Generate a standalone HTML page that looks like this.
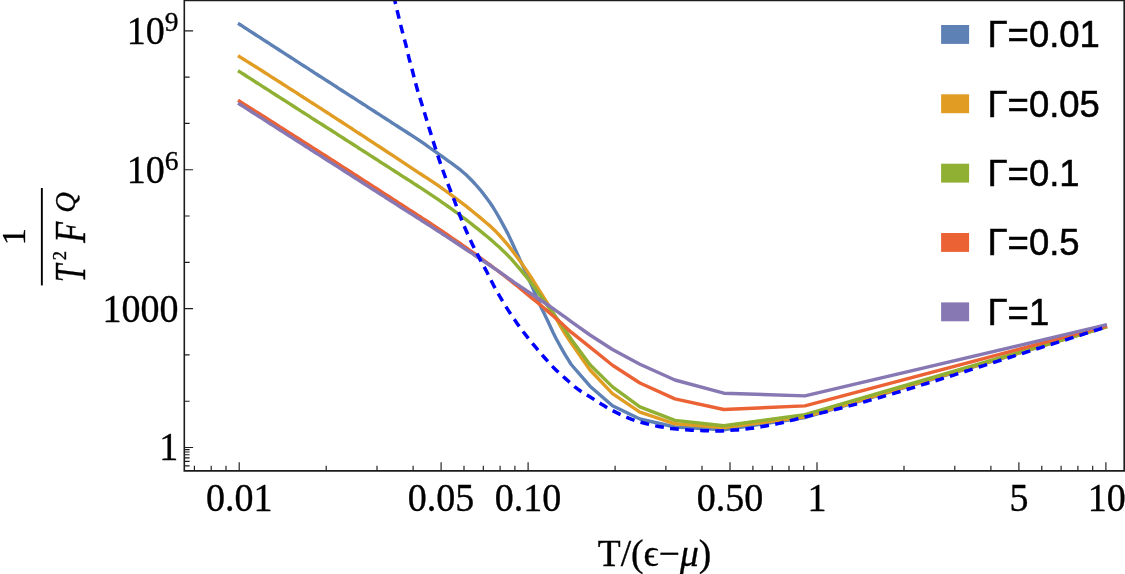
<!DOCTYPE html>
<html lang="en"><head><meta charset="utf-8"><title>Plot</title>
<style>html,body{margin:0;padding:0;background:#fff}svg{display:block}</style>
</head><body>
<svg width="1125" height="574" viewBox="0 0 1125 574">
<rect width="1125" height="574" fill="#fff"/>
<g fill="none" stroke-width="3.4" stroke-linejoin="round">
<path stroke="#5E81B5" d="M238.0 23.3 L241.0 25.2 L244.0 27.2 L247.0 29.1 L250.0 31.1 L253.0 33.0 L256.0 35.0 L259.0 36.9 L262.0 38.8 L265.0 40.8 L268.0 42.7 L271.0 44.7 L274.0 46.6 L277.0 48.5 L280.0 50.5 L283.0 52.4 L286.0 54.4 L289.0 56.3 L292.0 58.2 L295.0 60.2 L298.0 62.1 L301.0 64.1 L304.0 66.0 L307.0 67.9 L310.0 69.9 L313.0 71.8 L316.0 73.8 L319.0 75.7 L322.1 77.6 L325.1 79.6 L328.1 81.5 L331.1 83.4 L334.1 85.4 L337.1 87.3 L340.1 89.3 L343.1 91.2 L346.1 93.1 L349.1 95.1 L352.1 97.0 L355.1 98.9 L358.1 100.9 L361.1 102.8 L364.1 104.7 L367.1 106.7 L370.1 108.6 L373.1 110.5 L376.1 112.5 L379.1 114.4 L382.1 116.4 L385.1 118.3 L388.1 120.2 L391.1 122.2 L394.1 124.1 L397.1 126.0 L400.1 128.0 L403.1 129.9 L406.1 131.8 L409.1 133.7 L412.1 135.6 L415.1 137.6 L418.1 139.6 L421.1 141.6 L424.1 143.7 L427.1 145.8 L430.1 148.0 L433.1 150.1 L436.1 152.2 L439.1 154.4 L442.1 156.5 L445.1 158.6 L448.1 160.8 L451.1 162.9 L454.1 165.1 L457.1 167.3 L460.1 169.7 L463.1 172.2 L466.1 174.8 L469.1 177.7 L472.1 180.8 L475.1 184.0 L478.1 187.4 L481.1 190.9 L484.1 194.7 L487.1 198.7 L490.2 203.0 L493.2 207.5 L496.2 212.5 L499.2 217.7 L502.2 223.1 L505.2 228.6 L508.2 234.4 L511.2 240.8 L514.2 247.3 L517.2 253.7 L520.2 260.1 L523.2 266.6 L526.2 273.3 L529.2 280.0 L532.2 286.9 L535.2 293.7 L538.2 300.7 L541.2 307.6 L544.2 313.6 L547.2 319.7 L550.2 326.3 L553.2 332.8 L556.2 338.8 L559.2 344.3 L562.2 349.6 L565.2 354.8 L568.2 359.7 L571.2 364.5 L590.0 386.2 L612.5 405.7 L639.9 419.0 L674.9 427.0 L723.8 429.9 L804.9 417.5 L1107.0 326.7"/>
<path stroke="#E19C24" d="M238.0 55.7 L241.0 57.6 L244.0 59.5 L247.0 61.4 L250.0 63.2 L253.0 65.1 L256.0 67.0 L259.0 68.9 L262.0 70.8 L265.0 72.7 L268.0 74.6 L271.0 76.6 L274.0 78.5 L277.0 80.4 L280.0 82.3 L283.0 84.2 L286.0 86.1 L289.0 88.1 L292.0 90.0 L295.0 91.9 L298.0 93.8 L301.0 95.8 L304.0 97.7 L307.0 99.6 L310.0 101.6 L313.0 103.5 L316.0 105.4 L319.0 107.4 L322.1 109.3 L325.1 111.3 L328.1 113.2 L331.1 115.2 L334.1 117.1 L337.1 119.1 L340.1 121.0 L343.1 123.0 L346.1 124.9 L349.1 126.9 L352.1 128.8 L355.1 130.8 L358.1 132.8 L361.1 134.7 L364.1 136.7 L367.1 138.7 L370.1 140.6 L373.1 142.6 L376.1 144.6 L379.1 146.5 L382.1 148.5 L385.1 150.5 L388.1 152.5 L391.1 154.4 L394.1 156.4 L397.1 158.4 L400.1 160.4 L403.1 162.4 L406.1 164.4 L409.1 166.4 L412.1 168.4 L415.1 170.4 L418.1 172.4 L421.1 174.3 L424.1 176.2 L427.1 178.1 L430.1 180.1 L433.1 182.1 L436.1 184.1 L439.1 186.2 L442.1 188.3 L445.1 190.5 L448.1 192.7 L451.1 194.9 L454.1 197.1 L457.1 199.4 L460.1 201.7 L463.1 203.9 L466.1 206.2 L469.1 208.6 L472.1 211.0 L475.1 213.5 L478.1 215.9 L481.1 218.4 L484.1 221.0 L487.1 223.5 L490.2 226.1 L493.2 228.9 L496.2 231.8 L499.2 235.0 L502.2 238.3 L505.2 241.8 L508.2 245.4 L511.2 249.2 L514.2 253.2 L517.2 257.2 L520.2 261.3 L523.2 265.6 L526.2 269.9 L529.2 274.4 L532.2 279.0 L535.2 283.8 L538.2 288.6 L541.2 293.5 L544.2 298.2 L547.2 303.0 L550.2 307.9 L553.2 313.2 L556.2 318.5 L559.2 323.8 L562.2 329.1 L565.2 334.0 L568.2 338.6 L571.2 343.0 L590.0 370.0 L612.5 393.7 L639.9 412.2 L674.9 423.8 L723.8 427.6 L804.9 416.8 L1107.0 326.7"/>
<path stroke="#8FB032" d="M238.0 70.7 L241.0 72.6 L244.0 74.5 L247.0 76.5 L250.0 78.4 L253.0 80.3 L256.0 82.2 L259.0 84.1 L262.0 86.1 L265.0 88.0 L268.0 89.9 L271.0 91.8 L274.0 93.8 L277.0 95.7 L280.0 97.6 L283.0 99.5 L286.0 101.4 L289.0 103.4 L292.0 105.3 L295.0 107.2 L298.0 109.1 L301.0 111.1 L304.0 113.0 L307.0 114.9 L310.0 116.8 L313.0 118.8 L316.0 120.7 L319.0 122.6 L322.1 124.5 L325.1 126.5 L328.1 128.4 L331.1 130.3 L334.1 132.2 L337.1 134.2 L340.1 136.1 L343.1 138.0 L346.1 140.0 L349.1 141.9 L352.1 143.8 L355.1 145.7 L358.1 147.7 L361.1 149.6 L364.1 151.5 L367.1 153.4 L370.1 155.4 L373.1 157.3 L376.1 159.2 L379.1 161.2 L382.1 163.1 L385.1 165.0 L388.1 166.9 L391.1 168.9 L394.1 170.8 L397.1 172.7 L400.1 174.7 L403.1 176.6 L406.1 178.5 L409.1 180.4 L412.1 182.3 L415.1 184.3 L418.1 186.2 L421.1 188.1 L424.1 190.1 L427.1 192.1 L430.1 194.1 L433.1 196.1 L436.1 198.1 L439.1 200.2 L442.1 202.3 L445.1 204.4 L448.1 206.5 L451.1 208.6 L454.1 210.8 L457.1 213.0 L460.1 215.2 L463.1 217.5 L466.1 219.7 L469.1 222.0 L472.1 224.4 L475.1 226.8 L478.1 229.2 L481.1 231.6 L484.1 234.1 L487.1 236.5 L490.2 239.1 L493.2 241.7 L496.2 244.4 L499.2 247.1 L502.2 249.9 L505.2 252.8 L508.2 255.8 L511.2 258.9 L514.2 262.3 L517.2 265.8 L520.2 269.4 L523.2 273.1 L526.2 276.7 L529.2 280.5 L532.2 284.3 L535.2 288.4 L538.2 292.7 L541.2 297.0 L544.2 301.2 L547.2 305.5 L550.2 309.5 L553.2 313.4 L556.2 317.4 L559.2 321.6 L562.2 325.9 L565.2 330.2 L568.2 334.7 L571.2 339.3 L590.0 364.8 L612.5 386.9 L639.9 406.8 L674.9 420.4 L723.8 425.8 L804.9 414.7 L1107.0 326.7"/>
<path stroke="#EB6235" d="M238.0 100.3 L241.0 102.2 L244.0 104.1 L247.0 106.0 L250.0 107.9 L253.0 109.8 L256.0 111.6 L259.0 113.5 L262.0 115.4 L265.0 117.3 L268.0 119.2 L271.0 121.1 L274.0 123.0 L277.0 124.9 L280.0 126.9 L283.0 128.8 L286.0 130.7 L289.0 132.6 L292.0 134.5 L295.0 136.4 L298.0 138.3 L301.0 140.2 L304.0 142.1 L307.0 144.0 L310.0 145.9 L313.0 147.9 L316.0 149.8 L319.0 151.7 L322.1 153.6 L325.1 155.5 L328.1 157.5 L331.1 159.4 L334.1 161.3 L337.1 163.2 L340.1 165.1 L343.1 167.1 L346.1 169.0 L349.1 170.9 L352.1 172.8 L355.1 174.8 L358.1 176.7 L361.1 178.6 L364.1 180.6 L367.1 182.5 L370.1 184.4 L373.1 186.4 L376.1 188.3 L379.1 190.2 L382.1 192.2 L385.1 194.1 L388.1 196.0 L391.1 198.0 L394.1 199.9 L397.1 201.8 L400.1 203.8 L403.1 205.7 L406.1 207.6 L409.1 209.6 L412.1 211.5 L415.1 213.4 L418.1 215.4 L421.1 217.3 L424.1 219.3 L427.1 221.2 L430.1 223.2 L433.1 225.1 L436.1 227.1 L439.1 229.1 L442.1 231.1 L445.1 233.2 L448.1 235.2 L451.1 237.3 L454.1 239.3 L457.1 241.4 L460.1 243.5 L463.1 245.6 L466.1 247.7 L469.1 249.8 L472.1 251.9 L475.1 254.0 L478.1 256.2 L481.1 258.3 L484.1 260.5 L487.1 262.8 L490.2 265.0 L493.2 267.3 L496.2 269.5 L499.2 271.8 L502.2 274.2 L505.2 276.5 L508.2 278.8 L511.2 281.2 L514.2 283.6 L517.2 286.0 L520.2 288.4 L523.2 290.9 L526.2 293.4 L529.2 295.9 L532.2 298.3 L535.2 300.7 L538.2 303.1 L541.2 305.6 L544.2 308.3 L547.2 310.9 L550.2 313.5 L553.2 316.0 L556.2 318.6 L559.2 321.3 L562.2 323.9 L565.2 326.7 L568.2 329.4 L571.2 332.2 L590.0 347.2 L612.5 365.3 L639.9 383.0 L674.9 398.9 L723.8 409.5 L804.9 405.9 L1107.0 325.8"/>
<path stroke="#8778B3" d="M238.0 103.1 L241.0 105.0 L244.0 106.9 L247.0 108.9 L250.0 110.8 L253.0 112.7 L256.0 114.6 L259.0 116.5 L262.0 118.4 L265.0 120.4 L268.0 122.3 L271.0 124.2 L274.0 126.1 L277.0 128.0 L280.0 130.0 L283.0 131.9 L286.0 133.8 L289.0 135.7 L292.0 137.6 L295.0 139.6 L298.0 141.5 L301.0 143.4 L304.0 145.3 L307.0 147.2 L310.0 149.2 L313.0 151.1 L316.0 153.0 L319.0 154.9 L322.1 156.8 L325.1 158.8 L328.1 160.7 L331.1 162.6 L334.1 164.5 L337.1 166.4 L340.1 168.4 L343.1 170.3 L346.1 172.2 L349.1 174.1 L352.1 176.0 L355.1 178.0 L358.1 179.9 L361.1 181.8 L364.1 183.7 L367.1 185.6 L370.1 187.6 L373.1 189.5 L376.1 191.4 L379.1 193.3 L382.1 195.2 L385.1 197.2 L388.1 199.1 L391.1 201.0 L394.1 202.9 L397.1 204.8 L400.1 206.8 L403.1 208.7 L406.1 210.6 L409.1 212.5 L412.1 214.4 L415.1 216.3 L418.1 218.2 L421.1 220.2 L424.1 222.1 L427.1 224.0 L430.1 225.9 L433.1 227.8 L436.1 229.8 L439.1 231.7 L442.1 233.7 L445.1 235.6 L448.1 237.6 L451.1 239.6 L454.1 241.5 L457.1 243.5 L460.1 245.5 L463.1 247.5 L466.1 249.5 L469.1 251.5 L472.1 253.4 L475.1 255.5 L478.1 257.5 L481.1 259.5 L484.1 261.5 L487.1 263.5 L490.2 265.5 L493.2 267.6 L496.2 269.6 L499.2 271.7 L502.2 273.8 L505.2 275.9 L508.2 278.1 L511.2 280.2 L514.2 282.3 L517.2 284.3 L520.2 286.4 L523.2 288.4 L526.2 290.5 L529.2 292.5 L532.2 294.5 L535.2 296.5 L538.2 298.5 L541.2 300.5 L544.2 302.5 L547.2 304.5 L550.2 306.5 L553.2 308.7 L556.2 310.8 L559.2 312.9 L562.2 315.1 L565.2 317.2 L568.2 319.4 L571.2 321.6 L590.0 335.0 L612.5 349.5 L639.9 364.2 L674.9 380.0 L723.8 393.2 L804.9 395.9 L1107.0 324.7"/>
<path stroke="#0000FF" stroke-width="3.5" stroke-dasharray="8.8 6.3" stroke-dashoffset="1.6" d="M394.0 -3.0 L397.0 9.9 L400.0 22.4 L403.0 34.2 L406.0 45.3 L409.0 58.2 L412.1 69.5 L415.1 81.4 L418.1 92.4 L421.1 101.8 L424.1 111.4 L427.1 121.3 L430.1 131.2 L433.1 141.0 L436.1 150.4 L439.1 159.5 L442.1 168.2 L445.1 176.5 L448.2 184.6 L451.2 192.4 L454.2 200.1 L457.2 208.2 L460.2 216.3 L463.2 223.8 L466.2 230.8 L469.2 237.5 L472.2 243.9 L475.2 250.0 L478.2 255.8 L481.2 261.6 L484.3 267.1 L487.3 272.8 L490.3 278.9 L493.3 284.8 L496.3 290.3 L499.3 295.5 L502.3 300.6 L505.3 305.6 L508.3 310.4 L511.3 314.9 L514.3 319.3 L517.3 323.7 L520.4 327.9 L523.4 332.0 L526.4 335.9 L529.4 339.6 L532.4 343.3 L535.4 346.9 L538.4 350.5 L541.4 354.1 L544.4 357.5 L547.4 360.9 L550.4 364.2 L553.4 367.4 L556.5 370.4 L559.5 373.2 L562.5 375.9 L565.5 378.6 L568.5 381.3 L571.5 384.0 L574.5 386.6 L577.5 388.9 L580.5 391.0 L583.5 392.9 L586.5 394.8 L589.5 396.6 L592.6 398.5 L595.6 400.4 L598.6 402.4 L601.6 404.3 L604.6 406.1 L607.6 407.9 L610.6 409.6 L613.6 411.1 L616.6 412.6 L619.6 414.1 L622.6 415.5 L625.6 416.8 L628.7 418.1 L631.7 419.3 L634.7 420.4 L637.7 421.4 L640.7 422.2 L643.7 423.0 L646.7 423.8 L649.7 424.5 L652.7 425.2 L655.7 425.9 L658.7 426.5 L661.8 427.0 L664.8 427.5 L667.8 428.0 L670.8 428.4 L673.8 428.7 L676.8 429.0 L679.8 429.3 L682.8 429.6 L685.8 429.8 L688.8 430.0 L691.8 430.2 L694.8 430.4 L697.9 430.5 L700.9 430.6 L703.9 430.7 L706.9 430.8 L709.9 430.9 L712.9 431.0 L715.9 431.0 L718.9 431.0 L721.9 430.9 L724.9 430.7 L727.9 430.5 L730.9 430.3 L734.0 430.1 L737.0 429.9 L740.0 429.6 L743.0 429.3 L746.0 429.0 L749.0 428.6 L752.0 428.2 L755.0 427.8 L758.0 427.3 L761.0 426.8 L764.0 426.3 L767.0 425.7 L770.1 425.2 L773.1 424.6 L776.1 424.0 L779.1 423.4 L782.1 422.7 L785.1 421.9 L788.1 421.2 L791.1 420.4 L794.1 419.7 L797.1 418.9 L800.1 418.1 L803.1 417.4 L806.2 416.6 L809.2 415.9 L812.2 415.1 L815.2 414.4 L818.2 413.7 L821.2 412.9 L824.2 412.2 L827.2 411.5 L830.2 410.7 L833.2 410.0 L836.2 409.2 L839.2 408.5 L842.3 407.7 L845.3 406.9 L848.3 406.1 L851.3 405.4 L854.3 404.6 L857.3 403.8 L860.3 402.9 L863.3 402.1 L866.3 401.3 L869.3 400.4 L872.3 399.6 L875.4 398.7 L878.4 397.9 L881.4 397.0 L884.4 396.1 L887.4 395.2 L890.4 394.3 L893.4 393.5 L896.4 392.6 L899.4 391.7 L902.4 390.8 L905.4 389.9 L908.4 389.0 L911.5 388.1 L914.5 387.2 L917.5 386.2 L920.5 385.3 L923.5 384.4 L926.5 383.5 L929.5 382.6 L932.5 381.6 L935.5 380.7 L938.5 379.8 L941.5 378.8 L944.5 377.9 L947.6 377.0 L950.6 376.0 L953.6 375.1 L956.6 374.1 L959.6 373.2 L962.6 372.3 L965.6 371.3 L968.6 370.4 L971.6 369.4 L974.6 368.4 L977.6 367.5 L980.6 366.5 L983.7 365.6 L986.7 364.6 L989.7 363.7 L992.7 362.7 L995.7 361.8 L998.7 360.8 L1001.7 359.9 L1004.7 358.9 L1007.7 358.0 L1010.7 357.0 L1013.7 356.1 L1016.7 355.1 L1019.8 354.2 L1022.8 353.3 L1025.8 352.3 L1028.8 351.4 L1031.8 350.4 L1034.8 349.5 L1037.8 348.5 L1040.8 347.6 L1043.8 346.6 L1046.8 345.7 L1049.8 344.8 L1052.8 343.8 L1055.9 342.9 L1058.9 341.9 L1061.9 341.0 L1064.9 340.0 L1067.9 339.1 L1070.9 338.1 L1073.9 337.2 L1076.9 336.2 L1079.9 335.3 L1082.9 334.3 L1085.9 333.4 L1088.9 332.4 L1092.0 331.5 L1095.0 330.5 L1098.0 329.6 L1101.0 328.6 L1104.0 327.7 L1107.0 326.7"/>
</g>
<g stroke="#1c1c1c" fill="none">
<path stroke-width="1.6" d="M184.3 0.4 H1124.2 V470.9 H184.3 Z"/>
<path stroke-width="1.15" d="M239.2 470.9 v-8.6 M441.1 470.9 v-8.6 M528.1 470.9 v-8.6 M730.0 470.9 v-8.6 M817.0 470.9 v-8.6 M1018.9 470.9 v-8.6 M1105.9 470.9 v-8.6 M194.4 470.9 v-5.2 M211.2 470.9 v-5.2 M226.0 470.9 v-5.2 M326.2 470.9 v-5.2 M377.0 470.9 v-5.2 M413.1 470.9 v-5.2 M464.0 470.9 v-5.2 M483.3 470.9 v-5.2 M500.1 470.9 v-5.2 M514.9 470.9 v-5.2 M615.1 470.9 v-5.2 M665.9 470.9 v-5.2 M702.0 470.9 v-5.2 M752.9 470.9 v-5.2 M772.2 470.9 v-5.2 M789.0 470.9 v-5.2 M803.8 470.9 v-5.2 M904.0 470.9 v-5.2 M954.8 470.9 v-5.2 M990.9 470.9 v-5.2 M1041.8 470.9 v-5.2 M1061.1 470.9 v-5.2 M1077.9 470.9 v-5.2 M1092.7 470.9 v-5.2 M184.3 447.5 h8.8 M184.3 308.6 h8.8 M184.3 169.7 h8.8 M184.3 30.8 h8.8 M184.3 465.9 h5.3 M184.3 461.4 h5.3 M184.3 457.8 h5.3 M184.3 454.7 h5.3 M184.3 452.0 h5.3 M184.3 449.6 h5.3 M184.3 401.2 h5.3 M184.3 354.9 h5.3 M184.3 262.3 h5.3 M184.3 216.0 h5.3 M184.3 123.4 h5.3 M184.3 77.1 h5.3"/>
</g>
<g font-family="'Liberation Serif', 'DejaVu Serif', serif" font-size="38" fill="#000" stroke="#000" stroke-width="0.35">
<text transform="translate(239.2,510.5) scale(1,1.030)" text-anchor="middle">0.01</text>
<text transform="translate(441.1,510.5) scale(1,1.030)" text-anchor="middle">0.05</text>
<text transform="translate(528.1,510.5) scale(1,1.030)" text-anchor="middle">0.10</text>
<text transform="translate(730.0,510.5) scale(1,1.030)" text-anchor="middle">0.50</text>
<text transform="translate(817.0,510.5) scale(1,1.030)" text-anchor="middle">1</text>
<text transform="translate(1018.9,510.5) scale(1,1.030)" text-anchor="middle">5</text>
<text transform="translate(1106.7,510.5) scale(1,1.030)" text-anchor="middle">10</text>
<text transform="translate(178.5,321.7) scale(1,1.030)" text-anchor="end">1000</text>
<text transform="translate(178.2,460.0) scale(1,1.030)" text-anchor="end">1</text>
<text transform="translate(178.5,183.2) scale(1,1.030)" text-anchor="end">10<tspan font-size="27.5" dy="-12.5">6</tspan></text>
<text transform="translate(178.5,44.2) scale(1,1.030)" text-anchor="end">10<tspan font-size="27.5" dy="-12.5">9</tspan></text>
<text x="654.5" y="566" text-anchor="middle" font-size="37.5">T/(ϵ−<tspan font-style="italic">μ</tspan>)</text>
<g transform="translate(0,236.7) rotate(-90)">
<text x="0" y="24.9" text-anchor="middle" font-size="34">1</text>
<rect x="-48.7" y="40.9" width="97.4" height="1.9" stroke="none"/>
<g font-size="36" font-style="italic">
<text transform="translate(-45.5,85) scale(0.88,1.24)">T</text>
<text transform="translate(-23.5,66.3)" font-size="18.5" font-style="normal">2</text>
<text transform="translate(-6,85) scale(0.95,1.24)">F</text>
<text transform="translate(24,75)" font-size="28.5">Q</text>
</g>
</g>
</g>
<g font-family="'Liberation Sans', 'DejaVu Sans', sans-serif" font-size="36.5" fill="#000" stroke="#000" stroke-width="0.5">
<rect x="941.1" y="25.0" width="28" height="18.9" fill="#5E81B5" stroke="none"/>
<text transform="translate(987.5,47.3) scale(1,1.035)">Γ=0.01</text>
<rect x="941.1" y="94.3" width="28" height="18.9" fill="#E19C24" stroke="none"/>
<text transform="translate(987.5,116.6) scale(1,1.035)">Γ=0.05</text>
<rect x="941.1" y="163.7" width="28" height="18.9" fill="#8FB032" stroke="none"/>
<text transform="translate(987.5,186.0) scale(1,1.035)">Γ=0.1</text>
<rect x="941.1" y="233.0" width="28" height="18.9" fill="#EB6235" stroke="none"/>
<text transform="translate(987.5,255.3) scale(1,1.035)">Γ=0.5</text>
<rect x="941.1" y="302.4" width="28" height="18.9" fill="#8778B3" stroke="none"/>
<text transform="translate(987.5,324.7) scale(1,1.035)">Γ=1</text>
</g>
</svg>
</body></html>
